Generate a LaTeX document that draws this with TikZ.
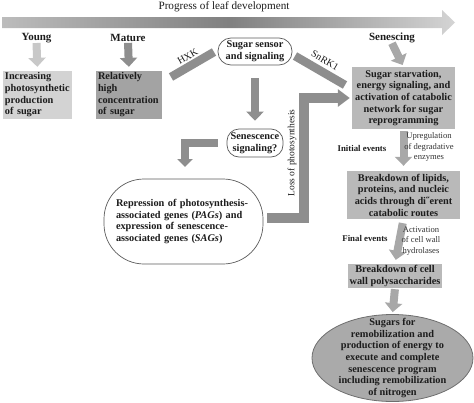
\documentclass[tikz,border=0pt]{standalone}
\usepackage{fontspec}
\setmainfont{Liberation Serif}
\usetikzlibrary{arrows.meta,shapes.geometric,calc}
\definecolor{txtc}{HTML}{1C1C1C}
\definecolor{smallc}{HTML}{333333}
\definecolor{barL}{HTML}{BCBCBC}
\definecolor{barM}{HTML}{808080}
\definecolor{barR}{HTML}{D4D4D4}
\definecolor{youngbox}{HTML}{D3D3D3}
\definecolor{maturebox}{HTML}{A3A3A3}
\definecolor{boxc}{HTML}{B9B9B9}
\definecolor{ellc}{HTML}{AAAAAA}
\definecolor{ellline}{HTML}{6E6E6E}
\definecolor{linec}{HTML}{5A5A5A}
\definecolor{youngarr}{HTML}{C8C8C8}
\definecolor{darkarr}{HTML}{8E8E8E}
\definecolor{midarr}{HTML}{A8A8A8}
\tikzset{
 lbl/.style={inner sep=0pt, text=txtc},
 btxt/.style={lbl, font=\fontsize{10.3}{11.7}\selectfont\bfseries, align=center},
 gbox/.style={btxt, rectangle, fill=boxc},
 rbox/.style={btxt, rectangle, draw=linec, line width=0.7pt, fill=white},
 blk/.style={line width=8pt, -{Triangle[width=17pt,length=9pt]}},
 barline/.style={line width=8.5pt, draw=darkarr},
 elbow/.style={line width=10pt, draw=darkarr, line join=miter, -{Triangle[width=17pt,length=12pt]}},
 elbowb/.style={line width=8pt, draw=darkarr, line join=miter, -{Triangle[width=15pt,length=8pt]}},
 stage/.style={lbl, font=\fontsize{11}{13}\selectfont\bfseries},
 smalltxt/.style={lbl, text=smallc, font=\fontsize{8.6}{10.3}\selectfont, align=center},
 smallb/.style={lbl, font=\fontsize{8.8}{10}\selectfont\bfseries},
}
\begin{document}
\begin{tikzpicture}[x=1pt,y=-1pt]
\useasboundingbox (0,0) rectangle (474,402);
% progress bar
\node[lbl, font=\fontsize{11.2}{13}\selectfont] (title) at (224,7) {Progress of leaf development};
\shade[left color=barL, right color=barR, middle color=barM]
  (2,17) -- (442,17) -- (442,10) -- (455,22.5) -- (442,35) -- (442,28) -- (2,28) -- cycle;
% stages
\node[stage] (young) at (36.5,38) {Young};
\node[stage] (mature) at (128,38) {Mature};
\node[stage] (senescing) at (392,38) {Senescing};
\node[btxt, rectangle, fill=youngbox, minimum width=69pt, minimum height=48pt, text width=65pt, align=left] (ybox) at (37.5,95) {Increasing\\photosynthetic\\production\\of sugar};
\node[btxt, rectangle, fill=maturebox, minimum width=66pt, minimum height=48pt, text width=62pt, align=left] (mbox) at (129,95) {Relatively\\high\\concentration\\of sugar};
\draw[blk, draw=youngarr, shorten >=4pt] (young.south) -- (ybox.north);
\draw[blk, draw=darkarr, shorten <=1pt, shorten >=4pt] (mature.south) -- (mbox.north);
% sugar sensor
\node[rbox, rounded corners=13pt, minimum width=74pt, minimum height=27pt] (sensor) at (255,51.5) {Sugar sensor\\and signaling};
\coordinate (hxka) at (171,77);
\coordinate (hxkb) at (214,52);
\draw[barline] (hxka) -- (hxkb);
\node[lbl, font=\fontsize{10}{11}\selectfont, rotate=30] (hxk) at (187.5,56.5) {HXK};
\coordinate (snra) at (295,56);
\coordinate (snrb) at (345,85);
\draw[barline] (snra) -- (snrb);
\node[lbl, font=\fontsize{10}{11}\selectfont, rotate=-30] (snrk) at (325,60.5) {SnRK1};
% senescence signaling
\node[rbox, rounded corners=12pt, minimum width=56pt, minimum height=28pt] (sig) at (255,143) {Senescence\\signaling?};
\draw[blk, draw=darkarr, shorten <=13pt, shorten >=8pt] (sensor.south) -- (sig.north);
% repression
\node[rbox, rounded corners=40pt, minimum width=159pt, minimum height=85pt, text width=135pt, align=left] (rep) at (183.5,221.5) {Repression of photosynthesis-\\associated genes (\textit{PAGs}) and\\expression of senescence-\\associated genes (\textit{SAGs})};
\coordinate (sigdown) at (185,167);
\draw[elbowb] ([xshift=-9pt]sig.west) -| (sigdown);
% senescing column
\node[gbox, minimum width=103pt, minimum height=62pt] (starv) at (403.5,98) {Sugar starvation,\\energy signaling, and\\activation of catabolic\\network for sugar\\reprogramming};
\draw[blk, draw=midarr, shorten >=2pt] (senescing.south) -- (starv.north);
\coordinate (lossup) at (304,98);
\draw[elbow] ([xshift=4pt,yshift=4pt]rep.east) -| (lossup) -- ([xshift=-2pt]starv.west);
\node[lbl, font=\fontsize{9.5}{11}\selectfont, rotate=90] (loss) at (292,153) {Loss of photosynthesis};
\node[gbox, minimum width=113pt, minimum height=48pt] (brk) at (403.5,195) {Breakdown of lipids,\\proteins, and nucleic\\acids through di˝erent\\catabolic routes};
\draw[blk, draw=midarr, shorten <=2pt, shorten >=5pt] (starv.south) -- (brk.north);
\node[smallb] (initial) at (362,148) {Initial events};
\node[smalltxt] (upreg) at (429,147) {Upregulation\\of degradative\\enzymes};
\node[gbox, minimum width=94pt, minimum height=24pt] (cell) at (395,276) {Breakdown of cell\\wall polysaccharides};
\draw[blk, draw=midarr, shorten <=4pt, shorten >=4pt] (brk.south) -- (cell.north);
\node[smallb] (final) at (365,238) {Final events};
\node[smalltxt] (activ) at (421,241) {Activation\\of cell wall\\hydrolases};
\node[ellipse, draw=ellline, line width=0.8pt, fill=ellc, minimum width=161pt, minimum height=87pt, inner sep=0pt] (sug) at (392.5,358) {};
\node[btxt] (sugtxt) at (sug.center) {Sugars for\\remobilization and\\production of energy to\\execute and complete\\senescence program\\including remobilization\\of nitrogen};
\draw[blk, draw=midarr, shorten <=1pt, shorten >=2pt] (cell.south) -- (sug.north);
\end{tikzpicture}
\end{document}
